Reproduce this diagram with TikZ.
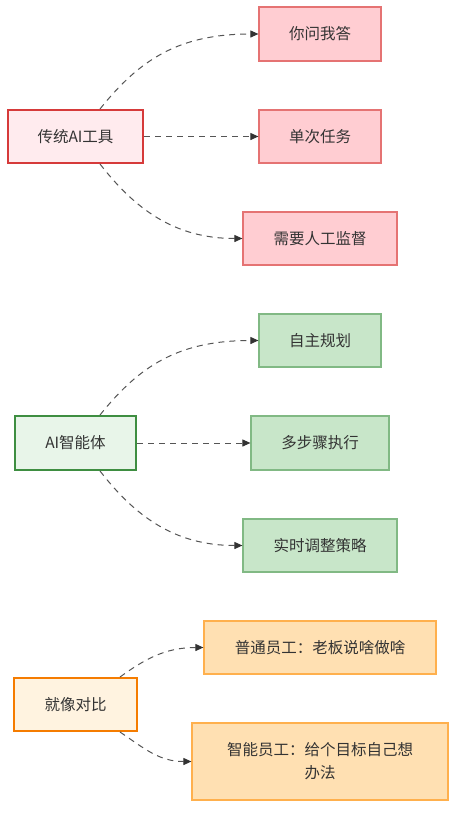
\documentclass[tikz,border=0pt]{standalone}
\usepackage{fontspec}
\setmainfont{Noto Sans CJK SC}
\usetikzlibrary{arrows.meta}
\definecolor{txt}{HTML}{333333}
\definecolor{edgec}{HTML}{555555}
\definecolor{rpf}{HTML}{FFEBEE}\definecolor{rpd}{HTML}{D63A3A}
\definecolor{rcf}{HTML}{FFCDD2}\definecolor{rcd}{HTML}{E57373}
\definecolor{gpf}{HTML}{E8F5E9}\definecolor{gpd}{HTML}{3E8E41}
\definecolor{gcf}{HTML}{C8E6C9}\definecolor{gcd}{HTML}{81B984}
\definecolor{opf}{HTML}{FFF3E0}\definecolor{opd}{HTML}{F57C00}
\definecolor{ocf}{HTML}{FFE0B2}\definecolor{ocd}{HTML}{FFB04D}
\tikzset{
  box/.style={rectangle, inner sep=0pt, text=txt, font=\fontsize{15.5}{23}\selectfont, align=center},
  parentbox/.style={box, line width=2pt},
  childbox/.style={box, line width=1.2pt},
  link/.style={draw=edgec, line width=1pt, dash pattern=on 6pt off 5pt,
    -{Triangle[length=8pt,width=7pt,color=txt,fill=txt]}},
}
\begin{document}
\begin{tikzpicture}[x=1pt,y=-1pt]
\fill[white] (0,0) rectangle (464,822);
\useasboundingbox (0,0) rectangle (464,822);
% group 1
\node[parentbox, fill=rpf, draw=rpd, minimum width=135pt, minimum height=53pt] (g1p) at (75.5,136.5) {传统AI工具};
\node[childbox, fill=rcf, draw=rcd, minimum width=122pt, minimum height=54pt] (g1a) at (320,34) {你问我答};
\node[childbox, fill=rcf, draw=rcd, minimum width=122pt, minimum height=53pt] (g1b) at (320,136.5) {单次任务};
\node[childbox, fill=rcf, draw=rcd, minimum width=154pt, minimum height=53pt] (g1c) at (320,238.5) {需要人工监督};
\draw[link] ([xshift=24.5pt]g1p.north) .. controls +(40,-50) and +(-79,0) .. (g1a.west);
\draw[link] (g1p.east) -- (g1b.west);
\draw[link] ([xshift=24.5pt]g1p.south) .. controls +(35,45) and +(-68,0) .. (g1c.west);
% group 2
\node[parentbox, fill=gpf, draw=gpd, minimum width=121pt, minimum height=54pt] (g2p) at (75.5,443) {AI智能体};
\node[childbox, fill=gcf, draw=gcd, minimum width=122pt, minimum height=53pt] (g2a) at (320,340.5) {自主规划};
\node[childbox, fill=gcf, draw=gcd, minimum width=138pt, minimum height=54pt] (g2b) at (320,443) {多步骤执行};
\node[childbox, fill=gcf, draw=gcd, minimum width=154pt, minimum height=53pt] (g2c) at (320,545.5) {实时调整策略};
\draw[link] ([xshift=24.5pt]g2p.north) .. controls +(40,-50) and +(-79,0) .. (g2a.west);
\draw[link] (g2p.east) -- (g2b.west);
\draw[link] ([xshift=24.5pt]g2p.south) .. controls +(35,45) and +(-68,0) .. (g2c.west);
% group 3
\node[parentbox, fill=opf, draw=opd, minimum width=123pt, minimum height=53pt] (g3p) at (75.5,704.5) {就像对比};
\node[childbox, fill=ocf, draw=ocd, minimum width=232pt, minimum height=53pt] (g3a) at (320,647.5) {普通员工：老板说啥做啥};
\node[childbox, fill=ocf, draw=ocd, minimum width=256pt, minimum height=77pt] (g3b) at (320,761.5) {智能员工：给个目标自己想\\办法};
\draw[link] ([xshift=44.5pt]g3p.north) .. controls +(25,-18) and +(-38,0) .. (g3a.west);
\draw[link] ([xshift=44.5pt]g3p.south) .. controls +(25,17) and +(-32,0) .. (g3b.west);
\end{tikzpicture}
\end{document}
